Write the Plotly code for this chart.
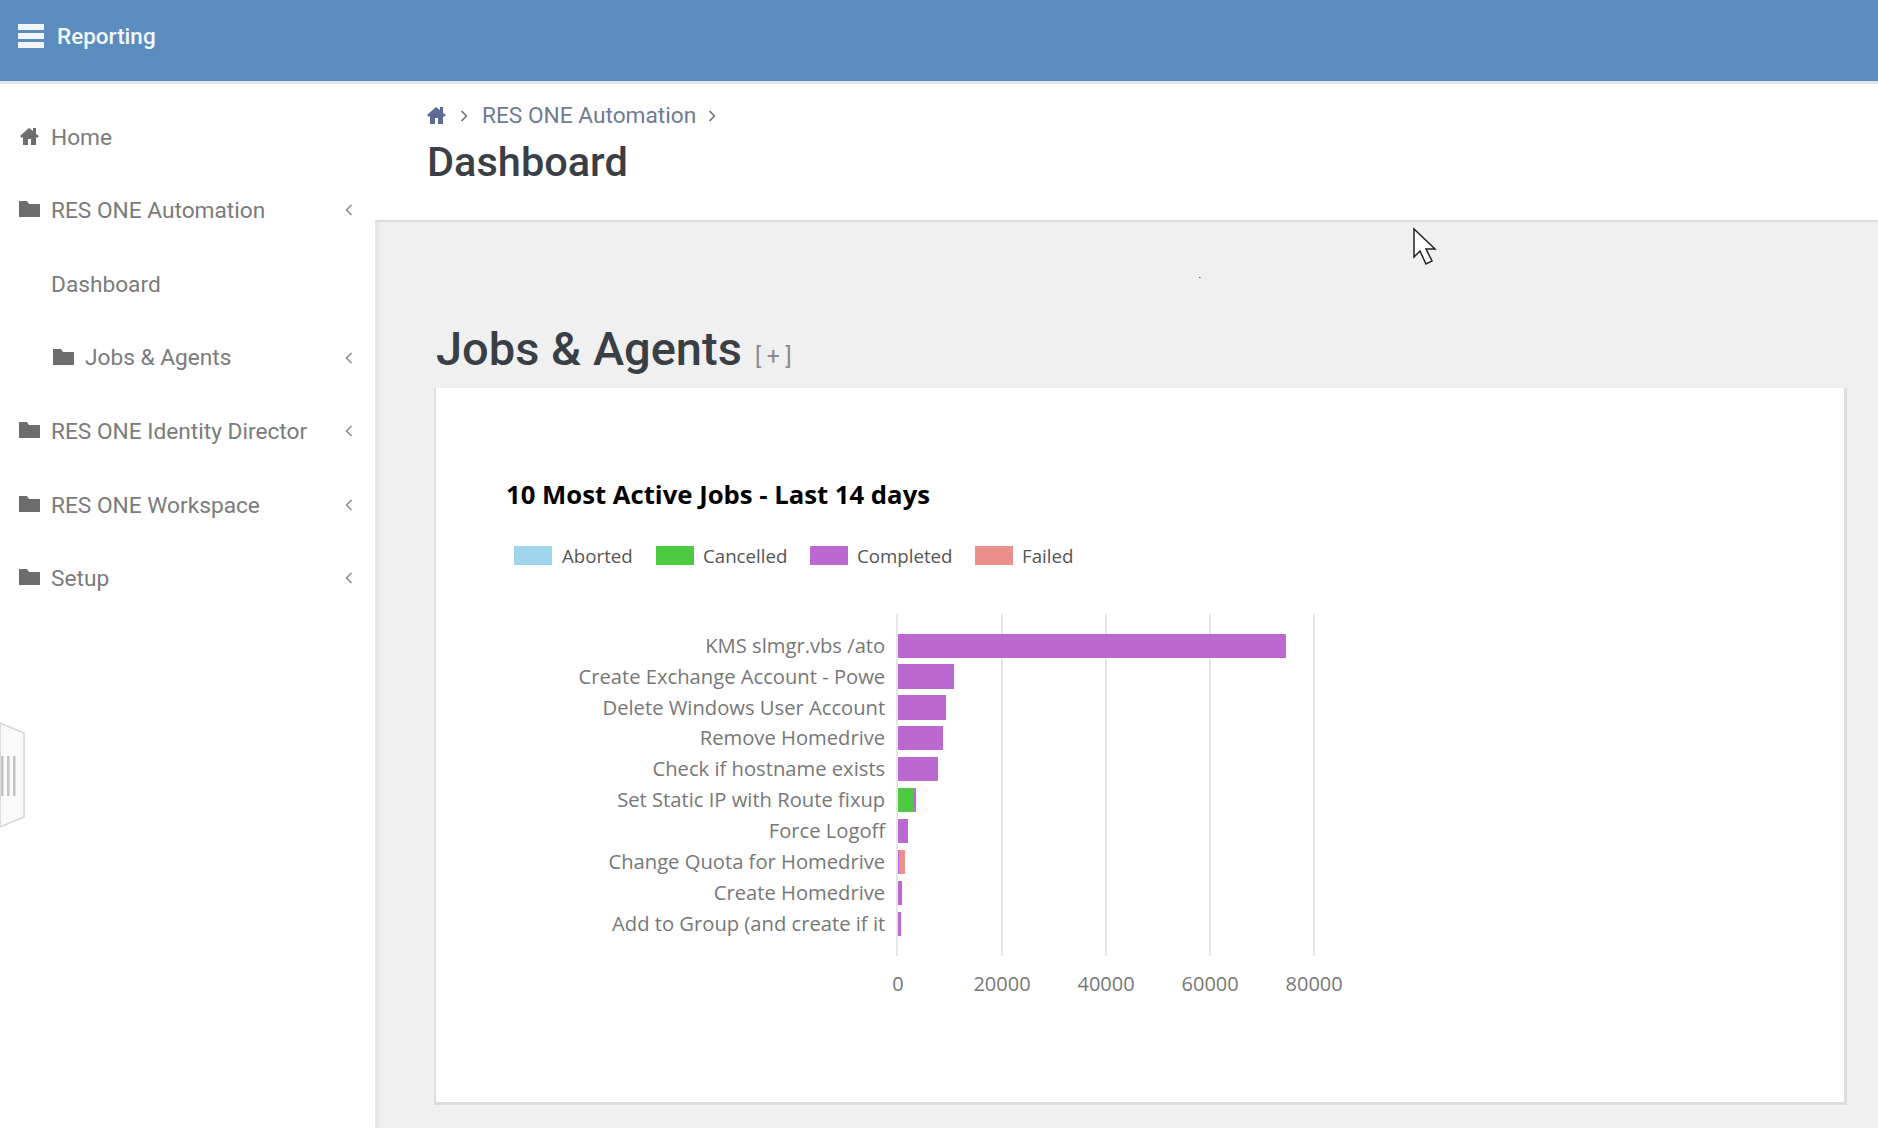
import plotly.graph_objects as go

W = 1878
H = 1128

# chart data
jobs = ["KMS slmgr.vbs /ato", "Create Exchange Account - Powe", "Delete Windows User Account",
        "Remove Homedrive", "Check if hostname exists", "Set Static IP with Route fixup",
        "Force Logoff", "Change Quota for Homedrive", "Create Homedrive", "Add to Group (and create if it"]
aborted = [0, 0, 0, 0, 0, 0, 0, 0, 0, 0]
cancelled = [0, 0, 0, 0, 0, 3200, 0, 0, 0, 0]
completed = [74500, 10800, 9200, 8600, 7600, 300, 1900, 100, 800, 500]
failed = [0, 0, 0, 0, 0, 0, 0, 1300, 0, 0]
series_names = ["Aborted", "Cancelled", "Completed", "Failed"]
series_colors = ["#9fd4ea", "#4ccb42", "#bb68d1", "#ea8f8c"]
x_ticks = [0, 20000, 40000, 60000, 80000]

# page text
menu_items = ["Home", "RES ONE Automation", "Dashboard", "Jobs & Agents",
              "RES ONE Identity Director", "RES ONE Workspace", "Setup"]
menu_x = [50, 50, 50, 84, 50, 50, 50]
menu_y = [137, 210, 284, 358, 431, 505, 578]
menu_icon = ["home", "folder", None, "folder", "folder", "folder", "folder"]
menu_chevron = [False, True, False, True, True, True, True]

chart_font = "Open Sans"
page_font = "Roboto"


def px(x):
    return x / W


def py(y):
    return 1 - y / H


def rect(x0, y0, x1, y1, color):
    return dict(type="rect", xref="paper", yref="paper", x0=px(x0), x1=px(x1), y0=py(y0), y1=py(y1),
                fillcolor=color, line_width=0, layer="below")


def path(points, fill=None, line=None, width=1, closed=True):
    d = "M" + " L".join(f"{px(a):.5f},{py(b):.5f}" for a, b in points)
    if closed:
        d += " Z"
    return dict(type="path", xref="paper", yref="paper", path=d, fillcolor=fill or "rgba(0,0,0,0)",
                line=dict(color=line or "rgba(0,0,0,0)", width=width), layer="below")


def label(x, y, text, size, color, family=page_font, anchor="left", weight=None):
    f = dict(size=size, color=color, family=family)
    if weight:
        f["weight"] = weight
    return dict(xref="paper", yref="paper", x=px(x), y=py(y), text=text, showarrow=False,
                xanchor=anchor, yanchor="middle", font=f, borderpad=0)


def home_icon(x, y, color):
    return path([(x, y - 1), (x + 9, y - 9), (x + 13, y - 6), (x + 13, y - 9), (x + 16, y - 9), (x + 16, y - 3),
                 (x + 19, y - 1), (x + 17, y + 1), (x + 16, y), (x + 16, y + 8), (x + 11, y + 8), (x + 11, y + 2),
                 (x + 8, y + 2), (x + 8, y + 8), (x + 3, y + 8), (x + 3, y), (x + 2, y + 1)], fill=color)


def folder_icon(x, y, color):
    return path([(x, y - 8), (x + 8, y - 8), (x + 10, y - 5), (x + 21, y - 5), (x + 21, y + 8), (x, y + 8)], fill=color)


def chevron(x, y, color, size=5, left=True, width=1.5):
    d = -1 if left else 1
    return path([(x - d * size * 0.5, y - size), (x + d * size * 0.5, y), (x - d * size * 0.5, y + size)],
                line=color, width=width, closed=False)


shapes = []
annotations = []

# page background and header
shapes.append(rect(0, 0, W, H, "#f0f0f0"))
shapes.append(rect(0, 81, 375, H, "#ffffff"))
shapes.append(rect(375, 81, 379, H, "#e8e8e8"))
shapes.append(rect(375, 81, W, 220, "#ffffff"))
shapes.append(rect(375, 220, W, 222, "#dcdcdc"))
shapes.append(rect(0, 81, W, 84, "#e4e4e4"))
shapes.append(rect(0, 0, W, 81, "#5a8dbe"))
for bar_y in [27, 36, 45]:
    shapes.append(rect(18, bar_y - 3, 44, bar_y + 3, "#f2f6fa"))
annotations.append(label(56, 36, "Reporting", 22.5, "#f4f7fb", weight=500))

# sidebar
for item, x, y, icon, chev in zip(menu_items, menu_x, menu_y, menu_icon, menu_chevron):
    annotations.append(label(x, y, item, 22.7, "#7b7b7b"))
    if icon == "home":
        shapes.append(home_icon(20, y, "#6d6d6d"))
    if icon == "folder":
        shapes.append(folder_icon(x - 31, y - 1, "#6d6d6d"))
    if chev:
        shapes.append(chevron(349, y, "#8a8a8a"))

# side handle
shapes.append(path([(0, 723), (24, 733), (24, 817), (0, 827)], fill="#fafafa", line="#d4d4d4", width=1.5))
for bar_x in [1, 7, 13]:
    shapes.append(rect(bar_x, 756, bar_x + 2.5, 796, "#c4c4c4"))

# breadcrumb and heading
shapes.append(home_icon(427, 116, "#5c6a94"))
shapes.append(chevron(464, 116, "#6b6b6b", left=False))
annotations.append(label(481, 116, "RES ONE Automation", 22.7, "#707a92"))
shapes.append(chevron(712, 116, "#6b6b6b", left=False))
annotations.append(label(426, 162, "Dashboard", 41.5, "#3a3f45", weight=500))
annotations.append(label(435, 348, "Jobs &amp; Agents", 47, "#3a3f45", weight=500))
annotations.append(label(754, 357, "[ + ]", 23, "#8a8a8a"))

# mouse pointer and the stray dot
shapes.append(path([(1414, 229), (1414, 257), (1420, 251), (1426, 264), (1432, 261), (1426, 249), (1435, 249)],
                   fill="#ffffff", line="#222222", width=1.5))
shapes.append(rect(1199, 277, 1200.5, 278, "#555555"))

# card
shapes.append(rect(434, 388, 1847, 1105, "#dddddd"))
shapes.append(rect(436, 388, 1844, 1102, "#ffffff"))

annotations.append(label(505, 494, "<b>10 Most Active Jobs - Last 14 days</b>", 25.7, "#000000", family=chart_font))

# legend
legend_swatch_x = [514, 656, 810, 975]
legend_text_x = [561, 702, 856, 1021]
for name, color, sx, tx in zip(series_names, series_colors, legend_swatch_x, legend_text_x):
    shapes.append(rect(sx, 546, sx + 38, 565, color))
    annotations.append(label(tx, 555, name, 18.7, "#555555", family=chart_font))

fig = go.Figure()
all_series = [aborted, cancelled, completed, failed]
for name, color, values in zip(series_names, series_colors, all_series):
    fig.add_trace(go.Bar(y=jobs, x=values, name=name, orientation="h", marker=dict(color=color, line_width=0)))

fig.update_layout(
    width=W, height=H, autosize=False,
    margin=dict(l=0, r=0, t=0, b=0, autoexpand=False),
    barmode="stack", bargap=0.22,
    showlegend=False,
    paper_bgcolor="#ffffff", plot_bgcolor="rgba(0,0,0,0)",
    shapes=shapes, annotations=annotations,
    xaxis=dict(domain=[px(898), px(1315.7)], range=[0, 80300], tickmode="array", tickvals=x_ticks,
               ticktext=[str(t) for t in x_ticks], showgrid=True, gridcolor="#e6e6e6", gridwidth=1.5,
               zeroline=False, showline=False, ticks="", ticklabelstandoff=14,
               tickfont=dict(family=chart_font, size=20, color="#777777"), anchor="y"),
    yaxis=dict(domain=[py(956), py(614)], type="category", categoryorder="array", categoryarray=jobs,
               range=[10.03, -1.02], showgrid=False, zeroline=False, showline=True, linecolor="#e6e6e6",
               linewidth=1.5, ticks="", ticklabelstandoff=7,
               tickfont=dict(family=chart_font, size=20.2, color="#777777"), anchor="x"),
)

fig.write_html("out.html", config=dict(displayModeBar=False),
               post_script="document.body.style.margin='0';document.body.style.overflow='hidden';")
